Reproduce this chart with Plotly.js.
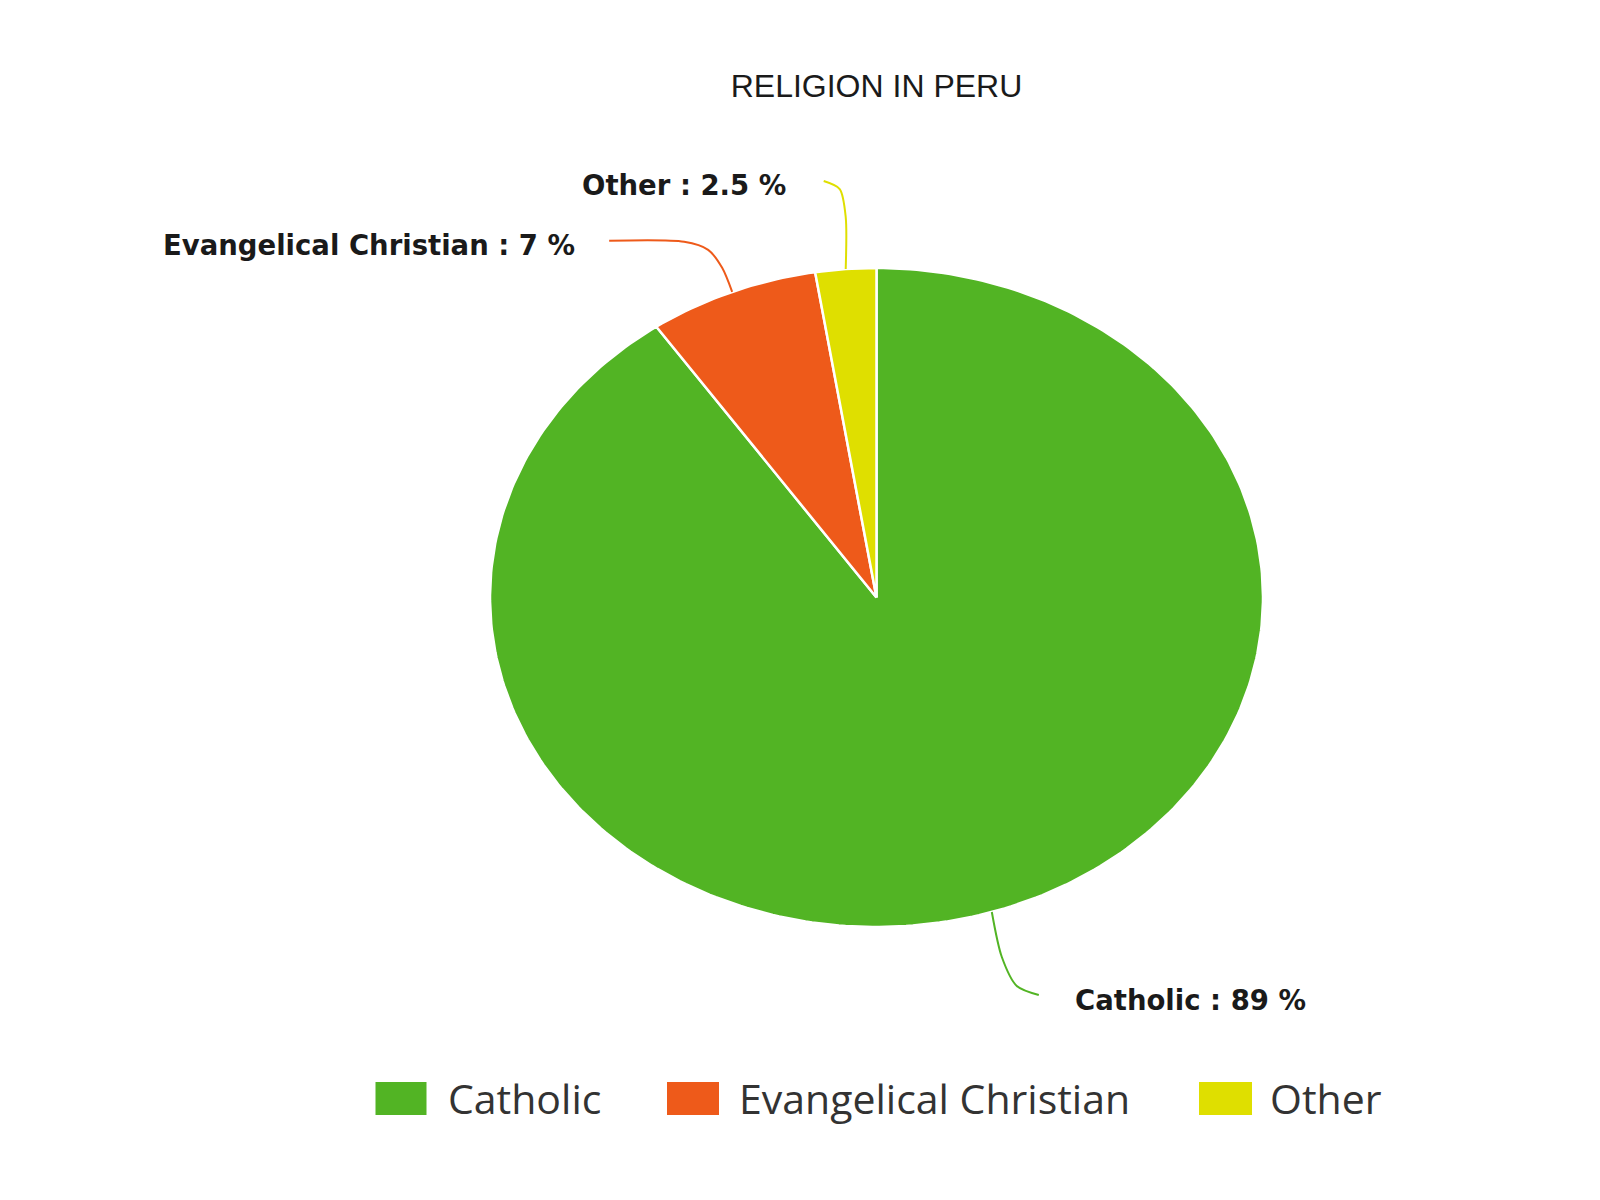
<!DOCTYPE html>
<html>
<head>
<meta charset="utf-8">
<script src="https://cdn.plot.ly/plotly-3.0.1.min.js"></script>
<style>html,body{margin:0;padding:0;background:#fff;}#chart{width:1600px;height:1200px;}</style>
</head>
<body>
<div id="chart"></div>
<script>
// ---- data ----
const categories = ['Catholic', 'Evangelical Christian', 'Other'];
const values = [89, 7, 2.5];
const valueLabels = ['89', '7', '2.5'];
const colors = ['#52b424', '#ee5a1a', '#dfdf00'];
const chartTitle = 'RELIGION IN PERU';

// ---- pie geometry (pixels) ----
const W = 1600, H = 1200;
const CX = 876.5, CY = 597.5, RX = 386.5, RY = 329.5;
const dx = px => (px - CX) / RX;   // pixel -> data x
const dy = py => (CY - py) / RY;   // pixel -> data y

const total = values.reduce((a, b) => a + b, 0);
const traces = [];
const mids = [];
let cum = 0;
values.forEach((v, i) => {
  const a0 = cum / total * 2 * Math.PI;
  cum += v;
  const a1 = cum / total * 2 * Math.PI;
  const n = Math.max(4, Math.ceil((a1 - a0) / (2 * Math.PI) * 360));
  const xs = [0], ys = [0];
  for (let k = 0; k <= n; k++) {
    const a = a0 + (a1 - a0) * k / n;
    xs.push(Math.sin(a)); ys.push(Math.cos(a));
  }
  xs.push(0); ys.push(0);
  traces.push({
    type: 'scatter', mode: 'lines', x: xs, y: ys, fill: 'toself',
    fillcolor: colors[i], line: {color: '#ffffff', width: 2.5},
    hoverinfo: 'skip', showlegend: false, name: categories[i]
  });
  const am = (a0 + a1) / 2;
  mids.push({x: Math.sin(am), y: Math.cos(am)});
});

// leader-line bends (pixel offsets) and label anchors
const leaders = [
  {pts: [[10, 45], [25, 74], [47, 83]], lab: [1073, 1000], anchor: 'left'},
  {pts: [[-10, -24], [-24, -42], [-48, -50], [-123, -51]], lab: [577, 245], anchor: 'right'},
  {pts: [[0, -52], [-6, -80], [-22, -88]], lab: [788, 185], anchor: 'right'}
];
const annotations = [];
leaders.forEach((L, i) => {
  const sx = CX + mids[i].x * RX, sy = CY - mids[i].y * RY;
  const xs = [mids[i].x], ys = [mids[i].y];
  L.pts.forEach(p => { xs.push(dx(sx + p[0])); ys.push(dy(sy + p[1])); });
  traces.push({
    type: 'scatter', mode: 'lines', x: xs, y: ys,
    line: {color: colors[i], width: 2, shape: 'spline', smoothing: 0.8},
    hoverinfo: 'skip', showlegend: false
  });
  annotations.push({
    x: dx(L.lab[0]), y: dy(L.lab[1]), xref: 'x', yref: 'y',
    text: '<b>' + categories[i] + ' : ' + valueLabels[i] + ' %</b>',
    showarrow: false, xanchor: L.anchor, yanchor: 'middle',
    font: {family: 'DejaVu Sans', size: 27.5, color: '#1a1a1a'}
  });
});

// manual legend
const legendBoxes = [[375.5, 426.5], [667, 719], [1199, 1252]];
const legendTextX = [446, 737, 1268];
const legendY = [1082, 1115];
const shapes = [];
categories.forEach((c, i) => {
  shapes.push({
    type: 'rect', xref: 'x', yref: 'y',
    x0: dx(legendBoxes[i][0]), x1: dx(legendBoxes[i][1]),
    y0: dy(legendY[1]), y1: dy(legendY[0]),
    fillcolor: colors[i], line: {width: 0}
  });
  annotations.push({
    x: dx(legendTextX[i]), y: dy((legendY[0] + legendY[1]) / 2 - 1), xref: 'x', yref: 'y',
    text: c, showarrow: false, xanchor: 'left', yanchor: 'middle',
    font: {family: 'Open Sans', size: 41, color: '#333333'}
  });
});

const layout = {
  width: W, height: H,
  margin: {l: 0, r: 0, t: 0, b: 0},
  paper_bgcolor: '#ffffff', plot_bgcolor: '#ffffff',
  title: {
    text: chartTitle, x: CX / W, y: 1 - 86 / H, xanchor: 'center', yanchor: 'middle',
    xref: 'paper', yref: 'paper',
    font: {family: 'Liberation Sans, Arial, sans-serif', size: 32, color: '#1a1a1a'}
  },
  xaxis: {range: [dx(0), dx(W)], visible: false, fixedrange: true},
  yaxis: {range: [dy(H), dy(0)], visible: false, fixedrange: true},
  showlegend: false,
  annotations: annotations,
  shapes: shapes,
  hovermode: false
};

Plotly.newPlot('chart', traces, layout, {displayModeBar: false, staticPlot: true});
</script>
</body>
</html>
